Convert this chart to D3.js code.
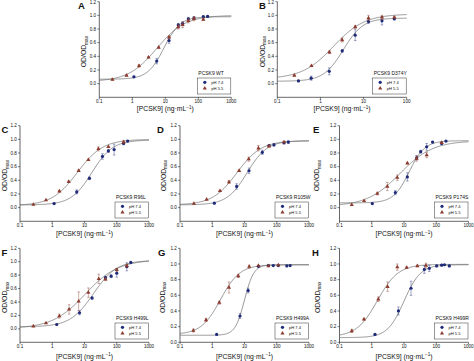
<!DOCTYPE html>
<html><head><meta charset="utf-8">
<script src="https://cdn.jsdelivr.net/npm/d3@7"></script>
<style>
body{margin:0;background:#fff}
svg{display:block}
text{font-family:"Liberation Sans",Arial,Helvetica,sans-serif;fill:#111}
</style>
</head><body>
<svg id="chart" width="474" height="361"></svg>
<script>
// ---------- DATA ----------
// points: [concentration ng/mL, OD/ODmax, error]
const A74 = [[1.12,0.10,0.01],[5.5,0.33,0.04],[13,0.63,0.04],[24.7,0.86,0.02],[33.5,0.88,0.03],[50,0.95,0.02],[74,0.96,0.02],[142,0.98,0.01],[192,0.985,0.01]];
const A55 = [[0.25,0.06,0.01],[0.67,0.12,0.01],[1.6,0.26,0.02],[3.1,0.385,0.01],[6.3,0.53,0.01],[13,0.68,0.02],[24.7,0.83,0.03],[33.5,0.86,0.04],[50,0.92,0.03],[74,0.95,0.03],[142,0.94,0.01]];
const B74 = [[0.31,0.04,0.01],[0.61,0.08,0.03],[1.6,0.18,0.05],[3.2,0.48,0.02],[6.4,0.71,0.08],[13,0.91,0.03],[26.7,0.92,0.06],[51.6,0.95,0.02]];
const B55 = [[0.248,0.12,0.01],[0.62,0.26,0.01],[1.62,0.46,0.02],[3.19,0.64,0.03],[6.4,0.83,0.02],[13,0.96,0.04],[26.7,0.97,0.03],[51.6,0.97,0.01]];
const C74 = [[1.14,0.06,0.01],[5.75,0.23,0.03],[14.2,0.43,0.02],[36,0.75,0.04],[55,0.83,0.02],[83,0.85,0.08],[163,0.94,0.02],[218,0.975,0.01]];
const C55 = [[0.26,0.044,0.005],[0.64,0.11,0.005],[1.66,0.24,0.01],[3.24,0.38,0.01],[6.6,0.54,0.01],[13.2,0.70,0.01],[27,0.86,0.03],[55,0.89,0.01],[163,0.96,0.02]];
const D74 = [[1.16,0.065,0.01],[5.7,0.31,0.04],[13.8,0.54,0.04],[35.7,0.81,0.03],[57.6,0.91,0.01],[82,0.92,0.02],[168,0.95,0.02],[229,0.96,0.02]];
const D55 = [[0.27,0.06,0.005],[0.67,0.12,0.005],[1.74,0.245,0.01],[3.3,0.375,0.02],[6.8,0.54,0.01],[13.5,0.71,0.03],[27,0.87,0.04],[57.6,0.90,0.01],[168,0.96,0.01]];
const E74 = [[1.04,0.06,0.01],[5.4,0.22,0.03],[12.7,0.45,0.06],[24.7,0.73,0.03],[32.9,0.82,0.02],[50.5,0.89,0.05],[77,0.96,0.01],[147,0.94,0.02],[200,0.975,0.01]];
const E55 = [[0.24,0.04,0.005],[0.58,0.10,0.005],[1.49,0.205,0.02],[3.04,0.31,0.06],[6.2,0.44,0.04],[12.7,0.65,0.01],[24.7,0.72,0.04],[50.5,0.77,0.04],[147,0.95,0.01]];
const F74 = [[1.38,0.065,0.01],[7.0,0.24,0.03],[17.2,0.46,0.02],[44.7,0.765,0.02],[67,0.785,0.02],[100,0.83,0.06],[205,0.925,0.06],[273,0.99,0.01]];
const F55 = [[0.26,0.04,0.005],[0.64,0.085,0.005],[1.66,0.19,0.03],[3.33,0.29,0.07],[6.6,0.41,0.14],[13.2,0.54,0.07],[27.7,0.745,0.07],[44.7,0.74,0.02],[100,0.88,0.02],[205,0.94,0.02]];
const G74 = [[1.37,0.10,0.005],[7.25,0.336,0.03],[13,0.66,0.03],[27,0.97,0.01],[55,0.98,0.01],[78,0.98,0.005],[112,0.98,0.005],[205,0.975,0.005],[260,0.98,0.005]];
const G55 = [[0.26,0.15,0.02],[0.64,0.285,0.02],[1.66,0.506,0.02],[3.3,0.70,0.07],[6.4,0.847,0.02],[14,0.966,0.02],[27,0.98,0.005],[55,0.975,0.005],[112,0.985,0.005]];
const H74 = [[1.26,0.10,0.01],[6.7,0.40,0.05],[16.5,0.69,0.09],[42.7,0.93,0.05],[61,0.945,0.04],[103,0.975,0.01],[147,0.985,0.01],[180,0.99,0.005],[254,0.975,0.01]];
const H55 = [[0.24,0.145,0.02],[0.575,0.294,0.01],[1.6,0.55,0.03],[3.1,0.71,0.06],[6.2,0.96,0.04],[12.1,0.953,0.01],[25.9,0.975,0.01],[48,0.98,0.03]];

// four-parameter logistic fits: [bottom, top, EC50, Hill]
const fitA74 = [0.065,0.98,9.1,1.76], fitA55 = [0.03,1.0,5.5,1.0];
const fitB74 = [0.035,0.96,3.4,1.9],  fitB55 = [0.07,1.02,2.0,1.2];
const fitC74 = [0.04,0.99,17,1.35],   fitC55 = [0.03,1.0,6,1.1];
const fitD74 = [0.04,0.98,12,1.4],    fitD55 = [0.04,0.98,5.8,1.15];
const fitE74 = [0.07,0.98,14.5,1.8],  fitE55 = [0.02,0.98,7.5,0.85];
const fitF74 = [0.03,1.02,19,1.2],    fitF55 = [0.005,1.03,10.5,0.85];
const fitG74 = [0.09,0.99,10,3.0],    fitG55 = [0.1,0.99,1.8,1.45];
const fitH74 = [0.06,0.99,10,1.7],    fitH55 = [0.07,0.995,1.5,1.35];

const panelLetters = ["A","B","C","D","E","F","G","H"];
const panelNames = ["PCSK9 WT","PCSK9 D374Y","PCSK9 R96L","PCSK9 R105W","PCSK9 P174S","PCSK9 H499L","PCSK9 H499A","PCSK9 H499R"];
const seriesNames = ["pH 7.4","pH 5.5"];
const xMaxes = [1000,100,1000,1000,1000,1000,1000,1000];
const yMins = [-0.2,-0.2,-0.2,-0.2,-0.2,-0.2,0,0];
const yTickValues = [0,0.2,0.4,0.6,0.8,1.0,1.2];
const xTickValues = [0.1,1,10,100,1000];

const data74 = [A74,B74,C74,D74,E74,F74,G74,H74];
const data55 = [A55,B55,C55,D55,E55,F55,G55,H55];
const fits74 = [fitA74,fitB74,fitC74,fitD74,fitE74,fitF74,fitG74,fitH74];
const fits55 = [fitA55,fitB55,fitC55,fitD55,fitE55,fitF55,fitG55,fitH55];

// ---------- LAYOUT ----------
const frames = [
  {x0:99.3, w:132, y0:1.7,   h:95.6, lx:78,  ylx:84,    xlo:14},
  {x0:277.3,w:129.4,y0:1.7,  h:95.6, lx:259, ylx:262.5, xlo:14},
  {x0:20,   w:129, y0:125.7, h:95.6, lx:1.5, ylx:5,     xlo:15},
  {x0:180,  w:129, y0:125.7, h:95.6, lx:157, ylx:163.5, xlo:15},
  {x0:339.5,w:129, y0:125.7, h:95.6, lx:313, ylx:317,   xlo:15},
  {x0:20,   w:129, y0:248.3, h:94,   lx:1.5, ylx:5,     xlo:16.5},
  {x0:180,  w:129, y0:248.3, h:94,   lx:158, ylx:162.5, xlo:16.5},
  {x0:339.5,w:129, y0:248.3, h:94,   lx:312, ylx:317.5, xlo:16.5}
];
const colors = ["#1f2a78","#8c3b2e"];
const curveColor = "#6a6a6a";

const svg = d3.select("#chart");
const fmtY = d3.format(".1f");
const fmtX = v => v < 1 ? "0.1" : String(v);
const logistic = (p, x) => p[0] + (p[1]-p[0]) / (1 + Math.pow(p[2]/x, p[3]));
const tri = d3.symbol().type(d3.symbolTriangle).size(7.5);

function drawMarker(g, kind, cx, cy){
  if(kind === 0){
    g.append("circle").attr("cx",cx).attr("cy",cy).attr("r",1.6).attr("fill",colors[0]);
  } else {
    g.append("path").attr("d",tri()).attr("transform",`translate(${cx},${cy})`).attr("fill",colors[1]);
  }
}

panelLetters.forEach((letter, i) => {
  const f = frames[i];
  const x = d3.scaleLog().domain([0.1, xMaxes[i]]).range([f.x0, f.x0 + f.w]);
  const y = d3.scaleLinear().domain([yMins[i], 1.2]).range([f.y0 + f.h, f.y0]);
  const g = svg.append("g");
  const bottom = f.y0 + f.h;

  // axes
  g.append("line").attr("x1",f.x0).attr("x2",f.x0).attr("y1",f.y0).attr("y2",bottom).attr("stroke","#000").attr("stroke-width",0.6);
  g.append("line").attr("x1",f.x0).attr("x2",f.x0+f.w).attr("y1",bottom).attr("y2",bottom).attr("stroke","#000").attr("stroke-width",0.6);
  yTickValues.forEach(v => {
    g.append("line").attr("x1",f.x0-2).attr("x2",f.x0).attr("y1",y(v)).attr("y2",y(v)).attr("stroke","#000").attr("stroke-width",0.5);
    g.append("text").attr("x",f.x0-3.2).attr("y",Math.max(y(v),2.2)).attr("dy","0.35em").attr("text-anchor","end")
      .attr("font-size",4.6).text(fmtY(v));
  });
  xTickValues.filter(v => v <= xMaxes[i]).forEach(v => {
    g.append("line").attr("x1",x(v)).attr("x2",x(v)).attr("y1",bottom).attr("y2",bottom+2).attr("stroke","#000").attr("stroke-width",0.5);
    g.append("text").attr("x",x(v)).attr("y",bottom+6).attr("text-anchor","middle").attr("font-size",4.6).text(fmtX(v));
  });

  // axis titles
  const xl = g.append("text").attr("x",f.x0+f.w/2).attr("y",bottom+f.xlo).attr("text-anchor","middle").attr("font-size",6.8);
  xl.append("tspan").text("[PCSK9] (ng·mL");
  xl.append("tspan").attr("font-size",4.6).attr("dy",-2.6).text("−1");
  xl.append("tspan").attr("dy",2.6).text(")");
  const yl = g.append("text").attr("transform",`translate(${f.ylx+2.3},${f.y0+f.h/2+2}) rotate(-90)`)
    .attr("text-anchor","middle").attr("font-size",6.8);
  yl.append("tspan").text("OD/OD");
  yl.append("tspan").attr("font-size",4.8).attr("dy",1.6).text("max");

  // panel letter
  g.append("text").attr("x",f.lx).attr("y",f.y0+7.2).attr("font-size",9.5).attr("font-weight","bold").text(letter);

  // fit curves
  const xs = d3.range(0, 201).map(k => Math.pow(10, Math.log10(0.1) + k/200*(Math.log10(xMaxes[i]) - Math.log10(0.1))));
  const line = d3.line().x(d => x(d[0])).y(d => y(d[1]));
  [fits74[i], fits55[i]].forEach(p => {
    g.append("path").attr("d", line(xs.map(v => [v, logistic(p, v)])))
      .attr("fill","none").attr("stroke",curveColor).attr("stroke-width",0.7);
  });

  // error bars and markers
  [data74[i], data55[i]].forEach((ser, s) => {
    ser.forEach(d => {
      const cx = x(d[0]), y1 = y(d[1]-d[2]), y2 = y(d[1]+d[2]);
      if (d[2] > 0.008) {
        g.append("line").attr("x1",cx).attr("x2",cx).attr("y1",y1).attr("y2",y2).attr("stroke",colors[s]).attr("stroke-opacity",0.75).attr("stroke-width",0.55);
        [y1,y2].forEach(yy => g.append("line").attr("x1",cx-1.3).attr("x2",cx+1.3).attr("y1",yy).attr("y2",yy).attr("stroke",colors[s]).attr("stroke-opacity",0.75).attr("stroke-width",0.55));
      }
    });
    ser.forEach(d => drawMarker(g, s, x(d[0]), y(d[1])));
  });

  // legend
  const bw = 33.5, bh = 16;
  const bx = f.x0 + f.w - bw - 0.5, by = bottom - 19.3;
  g.append("text").attr("x",bx+1).attr("y",by-3).attr("font-size",5).text(panelNames[i]);
  g.append("rect").attr("x",bx).attr("y",by).attr("width",bw).attr("height",bh).attr("fill","#fff").attr("stroke","#333").attr("stroke-width",0.5);
  seriesNames.forEach((nm, s) => {
    const ry = by + 4.3 + s*6;
    drawMarker(g, s, bx+7.5, ry);
    g.append("text").attr("x",bx+14).attr("y",ry).attr("dy","0.35em").attr("font-size",4.1).text(nm);
  });
});
</script>
</body></html>
